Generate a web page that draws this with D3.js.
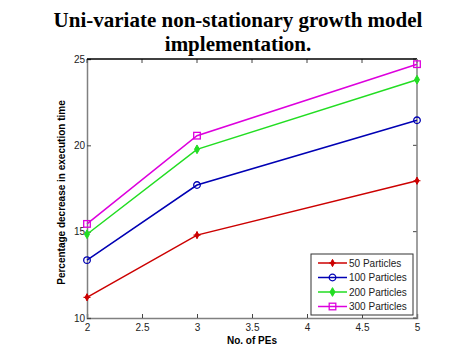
<!DOCTYPE html>
<html>
<head>
<meta charset="utf-8">
<script src="https://cdn.jsdelivr.net/npm/d3@7"></script>
<style>
  body { margin: 0; background: #fff; }
  svg { display: block; }
</style>
</head>
<body>
<svg width="474" height="354"></svg>
<script>
const pes = [2, 3, 5];
const seriesNames = ['50 Particles', '100 Particles', '200 Particles', '300 Particles'];
const p50 = [11.2, 14.8, 17.95];
const p100 = [13.35, 17.7, 21.45];
const p200 = [14.85, 19.77, 23.8];
const p300 = [15.45, 20.56, 24.7];
const xTicks = [2, 2.5, 3, 3.5, 4, 4.5, 5];
const yTicks = [10, 15, 20, 25];

const colors = ['#cc0000', '#0000b4', '#22dd22', '#dd00dd'];
const markers = ['star', 'circle', 'diamond', 'square'];
const values = [p50, p100, p200, p300];

const svg = d3.select('svg');
const m = { left: 87, right: 417, top: 59, bottom: 318 };

const x = d3.scaleLinear().domain([2, 5]).range([m.left, m.right]);
const y = d3.scaleLinear().domain([10, 25]).range([m.bottom, m.top]);

// title
svg.append('text')
  .attr('x', 238).attr('y', 27)
  .attr('text-anchor', 'middle')
  .style('font', 'bold 21px "Liberation Serif", "Times New Roman", serif')
  .text('Uni-variate non-stationary growth model');
svg.append('text')
  .attr('x', 238).attr('y', 51)
  .attr('text-anchor', 'middle')
  .style('font', 'bold 21px "Liberation Serif", "Times New Roman", serif')
  .text('implementation.');

const xAxis = svg.append('g')
  .attr('transform', `translate(0,${m.bottom})`)
  .call(d3.axisBottom(x).tickValues(xTicks).tickSize(-4).tickPadding(6).tickFormat(d3.format('')));
const yAxis = svg.append('g')
  .attr('transform', `translate(${m.left},0)`)
  .call(d3.axisLeft(y).tickValues(yTicks).tickSize(-4).tickPadding(2));

[xAxis, yAxis].forEach((g) => {
  g.select('.domain').attr('stroke', '#808080').attr('stroke-width', 1.5);
  g.selectAll('.tick line').attr('stroke', '#444');
  g.selectAll('.tick text')
    .attr('fill', '#222')
    .style('font', '10px "Liberation Sans", Arial, sans-serif');
});

// top ticks and right ticks
svg.append('g').selectAll('line')
  .data(xTicks).join('line')
  .attr('x1', d => x(d)).attr('x2', d => x(d))
  .attr('y1', m.top).attr('y2', m.top + 4)
  .attr('stroke', '#444');
svg.append('g').selectAll('line')
  .data(yTicks).join('line')
  .attr('x1', m.right).attr('x2', m.right - 4)
  .attr('y1', d => y(d)).attr('y2', d => y(d))
  .attr('stroke', '#444');

svg.append('line')
  .attr('x1', m.left).attr('x2', m.right)
  .attr('y1', m.top).attr('y2', m.top)
  .attr('stroke', '#000').attr('stroke-width', 1.5);
svg.append('line')
  .attr('x1', m.right).attr('x2', m.right)
  .attr('y1', m.top).attr('y2', m.bottom)
  .attr('stroke', '#808080').attr('stroke-width', 1.5);

// axis labels
svg.append('text')
  .attr('x', x(3.5)).attr('y', 344)
  .attr('text-anchor', 'middle')
  .style('font', 'bold 10px "Liberation Sans", Arial, sans-serif')
  .text('No. of PEs');
svg.append('text')
  .attr('transform', `translate(65,${(m.top + m.bottom) / 2 + 4}) rotate(-90)`)
  .attr('text-anchor', 'middle')
  .style('font', 'bold 10px "Liberation Sans", Arial, sans-serif')
  .text('Percentage decrease in execution time');

function drawMarker(g, type, color) {
  if (type === 'star') {
    g.append('path')
      .attr('d', d3.symbol(d3.symbolDiamond, 14)())
      .attr('fill', color).attr('stroke', color);
    g.append('path').attr('d', 'M-3.5,0H3.5M0,-3.5V3.5').attr('stroke', color).attr('stroke-width', 1.2);
  } else if (type === 'circle') {
    g.append('circle').attr('r', 3.3).attr('fill', 'none').attr('stroke', color).attr('stroke-width', 1.3);
  } else if (type === 'diamond') {
    g.append('path')
      .attr('d', d3.symbol(d3.symbolDiamond, 22)())
      .attr('fill', color).attr('stroke', color);
  } else {
    g.append('rect').attr('x', -3.3).attr('y', -3.3).attr('width', 6.6).attr('height', 6.6)
      .attr('fill', 'none').attr('stroke', color).attr('stroke-width', 1.3);
  }
}

const line = d3.line().x((d, i) => x(pes[i])).y(d => y(d));

values.forEach((vals, s) => {
  svg.append('path')
    .attr('d', line(vals))
    .attr('fill', 'none')
    .attr('stroke', colors[s])
    .attr('stroke-width', 1.5);
  vals.forEach((v, i) => {
    const g = svg.append('g').attr('transform', `translate(${x(pes[i])},${y(v)})`);
    drawMarker(g, markers[s], colors[s]);
  });
});

// legend
const lg = svg.append('g').attr('transform', 'translate(311,254)');
lg.append('rect').attr('width', 102).attr('height', 61)
  .attr('fill', '#fff').attr('stroke', '#333').attr('stroke-width', 1);
seriesNames.forEach((name, i) => {
  const yy = 9 + i * 14.5;
  lg.append('line').attr('x1', 7).attr('x2', 36).attr('y1', yy).attr('y2', yy)
    .attr('stroke', colors[i]).attr('stroke-width', 1.5);
  const g = lg.append('g').attr('transform', `translate(21.5,${yy})`);
  drawMarker(g, markers[i], colors[i]);
  lg.append('text').attr('x', 38).attr('y', yy + 3.5)
    .attr('fill', '#222')
    .style('font', '10px "Liberation Sans", Arial, sans-serif')
    .text(name);
});
</script>
</body>
</html>
